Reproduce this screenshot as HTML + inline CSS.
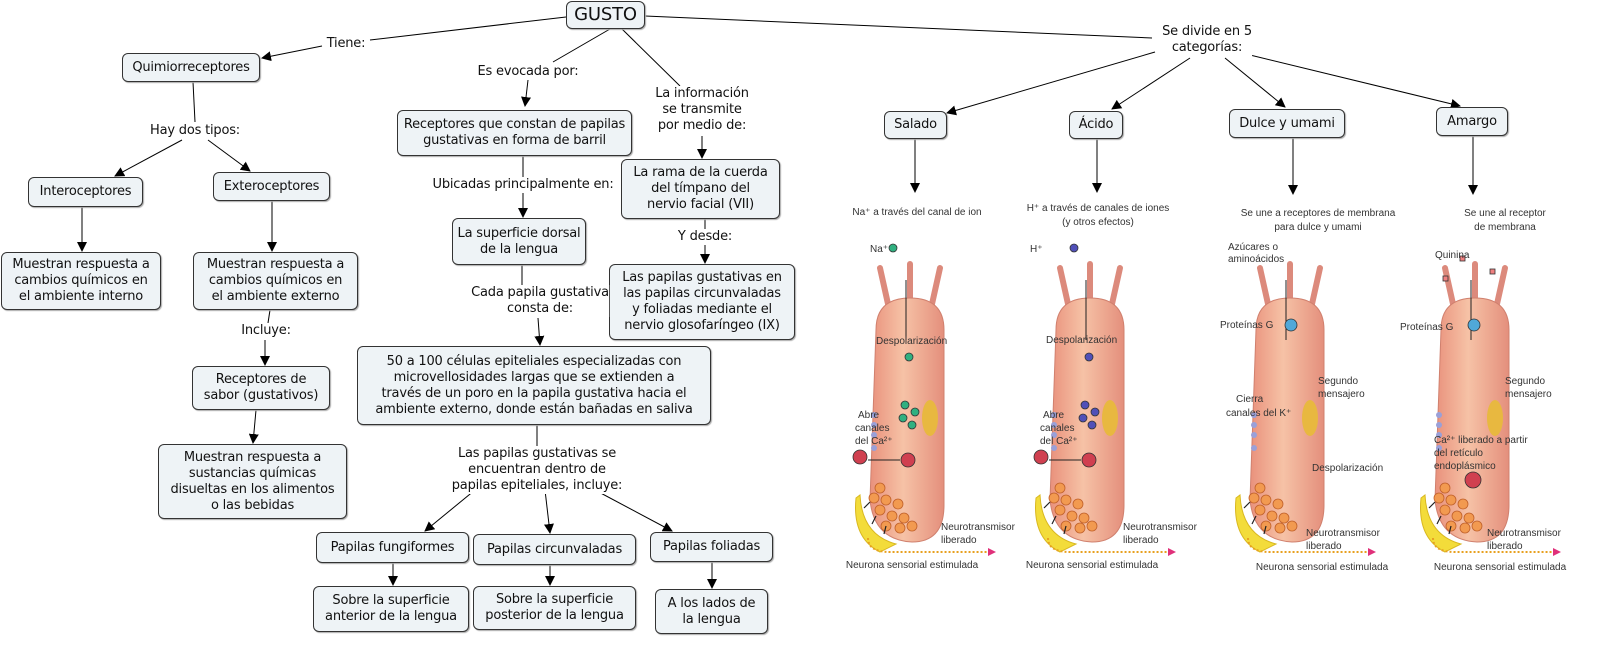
<!DOCTYPE html>
<html><head><meta charset="utf-8"><style>
body{margin:0;width:1600px;height:650px;background:#fff;position:relative;overflow:hidden;font-family:"DejaVu Sans","Liberation Sans",sans-serif;}
.n{position:absolute;box-sizing:border-box;border:1px solid #333;border-radius:6px;background:#eef3f6;box-shadow:1px 1px 1px #aaa;display:flex;align-items:center;justify-content:center;text-align:center;font-size:13px;line-height:16px;color:#111;letter-spacing:-0.2px}
.l{position:absolute;text-align:center;font-size:13px;line-height:16px;color:#111;background:#fff;transform:translateX(-50%);white-space:nowrap;letter-spacing:-0.2px}
svg{position:absolute;left:0;top:0}
.t{font-family:"Liberation Sans",sans-serif;font-size:10px;fill:#333}
</style></head><body>
<svg width="1600" height="650">
<defs>
<marker id="a" markerWidth="10" markerHeight="10" refX="9" refY="5" orient="auto" markerUnits="userSpaceOnUse"><path d="M0,0 L10,5 L0,10z" fill="#000"/></marker>
<linearGradient id="g" x1="0" x2="1"><stop offset="0" stop-color="#e9917c"/><stop offset=".45" stop-color="#f6c2a6"/><stop offset="1" stop-color="#e48f7c"/></linearGradient>
<g id="cell">
<path d="M-22,14 L-30,-22 M0,8 L0,-26 M22,14 L30,-22" stroke="#dc8a7c" stroke-width="6" stroke-linecap="round" fill="none"/>
<path d="M-34,40 Q-34,8 0,8 Q34,8 34,40 L34,215 Q34,252 2,252 Q-36,250 -40,210 Z" fill="url(#g)" stroke="#d0806e"/>
<ellipse cx="20" cy="128" rx="8" ry="18" fill="#e8b840"/>
<g fill="#9aa0d8"><circle cx="-36" cy="125" r="3"/><circle cx="-36" cy="135" r="3"/><circle cx="-36" cy="145" r="3"/><circle cx="-36" cy="158" r="3"/></g>
<g fill="#f29a50" stroke="#c0602a" stroke-width=".8">
<circle cx="-30" cy="198" r="5"/><circle cx="-24" cy="210" r="5"/><circle cx="-12" cy="214" r="5"/><circle cx="-30" cy="220" r="5"/><circle cx="-18" cy="226" r="5"/><circle cx="-6" cy="228" r="5"/><circle cx="-24" cy="236" r="5"/><circle cx="-10" cy="238" r="5"/><circle cx="2" cy="236" r="5"/><circle cx="-36" cy="208" r="5"/></g>
<path d="M-50,205 Q-48,245 -14,254 L-30,262 Q-58,248 -54,208 Z" fill="#f3dc3a" stroke="#d9b820"/>
<g stroke="#222" stroke-width="1.2"><line x1="-40" y1="212" x2="-46" y2="218"/><line x1="-34" y1="226" x2="-38" y2="234"/><line x1="-24" y1="236" x2="-26" y2="244"/></g>
<path d="M-42,248 Q-42,262 -20,262 L78,262" stroke="#e8a020" stroke-width="2" stroke-dasharray="2,2" fill="none"/>
<path d="M78,258 L86,262 L78,266z" fill="#e0307a"/>
<line x1="-4" y1="-10" x2="-4" y2="50" stroke="#222"/>
</g>
</defs>
<g stroke="#000" stroke-width="1" fill="none">
<line x1="566" y1="17" x2="370" y2="40"/><line x1="322" y1="46" x2="262" y2="58" marker-end="url(#a)"/>
<line x1="610" y1="29" x2="553" y2="62"/><line x1="528" y1="80" x2="525" y2="106" marker-end="url(#a)"/>
<line x1="622" y1="29" x2="680" y2="86"/><line x1="702" y1="136" x2="702" y2="158" marker-end="url(#a)"/>
<line x1="645" y1="16" x2="1152" y2="38"/>
<line x1="1155" y1="52" x2="947" y2="113" marker-end="url(#a)"/>
<line x1="1190" y1="58" x2="1112" y2="109" marker-end="url(#a)"/>
<line x1="1225" y1="58" x2="1285" y2="107" marker-end="url(#a)"/>
<line x1="1250" y1="55" x2="1460" y2="106" marker-end="url(#a)"/>
<line x1="193" y1="82" x2="195" y2="122"/>
<line x1="182" y1="140" x2="115" y2="176" marker-end="url(#a)"/>
<line x1="208" y1="140" x2="250" y2="171" marker-end="url(#a)"/>
<line x1="82" y1="207" x2="82" y2="251" marker-end="url(#a)"/>
<line x1="272" y1="201" x2="272" y2="251" marker-end="url(#a)"/>
<line x1="270" y1="310" x2="268" y2="323"/><line x1="265" y1="340" x2="265" y2="365" marker-end="url(#a)"/>
<line x1="256" y1="410" x2="253" y2="443" marker-end="url(#a)"/>
<line x1="523" y1="156" x2="523" y2="177"/><line x1="523" y1="193" x2="523" y2="217" marker-end="url(#a)"/>
<line x1="522" y1="265" x2="522" y2="285"/><line x1="538" y1="318" x2="540" y2="345" marker-end="url(#a)"/>
<line x1="537" y1="425" x2="537" y2="446"/>
<line x1="475" y1="490" x2="425" y2="531" marker-end="url(#a)"/>
<line x1="545" y1="490" x2="550" y2="533" marker-end="url(#a)"/>
<line x1="595" y1="490" x2="672" y2="531" marker-end="url(#a)"/>
<line x1="393" y1="563" x2="393" y2="585" marker-end="url(#a)"/>
<line x1="550" y1="565" x2="550" y2="585" marker-end="url(#a)"/>
<line x1="712" y1="562" x2="712" y2="588" marker-end="url(#a)"/>
<line x1="705" y1="219" x2="705" y2="230"/><line x1="705" y1="245" x2="705" y2="263" marker-end="url(#a)"/>
<line x1="915" y1="139" x2="915" y2="192" marker-end="url(#a)"/>
<line x1="1097" y1="139" x2="1097" y2="192" marker-end="url(#a)"/>
<line x1="1293" y1="138" x2="1293" y2="194" marker-end="url(#a)"/>
<line x1="1473" y1="136" x2="1473" y2="194" marker-end="url(#a)"/>
</g>
<use href="#cell" x="910" y="290"/>
<use href="#cell" x="1090" y="290"/>
<use href="#cell" x="1290" y="290"/>
<use href="#cell" x="1475" y="290"/>
<g stroke="#333" stroke-width=".8">
<circle cx="893" cy="248" r="4" fill="#30b080"/><circle cx="909" cy="357" r="4" fill="#30b080"/>
<circle cx="905" cy="405" r="4" fill="#30b080"/><circle cx="915" cy="412" r="4" fill="#30b080"/><circle cx="903" cy="418" r="4" fill="#30b080"/><circle cx="912" cy="425" r="4" fill="#30b080"/>
<circle cx="1074" cy="248" r="4" fill="#5050b8"/><circle cx="1089" cy="357" r="4" fill="#5050b8"/>
<circle cx="1085" cy="405" r="4" fill="#5050b8"/><circle cx="1095" cy="412" r="4" fill="#5050b8"/><circle cx="1083" cy="418" r="4" fill="#5050b8"/><circle cx="1092" cy="425" r="4" fill="#5050b8"/>
<circle cx="860" cy="457" r="7" fill="#d04050"/><circle cx="908" cy="460" r="7" fill="#d04050"/>
<circle cx="1041" cy="457" r="7" fill="#d04050"/><circle cx="1089" cy="460" r="7" fill="#d04050"/>
<circle cx="1291" cy="325" r="6" fill="#50a8d8"/><circle cx="1474" cy="325" r="6" fill="#50a8d8"/>
<circle cx="1473" cy="480" r="8" fill="#d04050"/>
<rect x="1460" y="256" width="5" height="5" fill="#f08080"/><rect x="1443" y="276" width="5" height="5" fill="#f08080"/><rect x="1490" y="269" width="5" height="5" fill="#f08080"/>
</g>
<g stroke="#222" fill="none"><line x1="868" y1="460" x2="900" y2="460"/><line x1="1049" y1="460" x2="1081" y2="460"/></g>
<g class="t">
<text x="917" y="215" text-anchor="middle">Na⁺ a través del canal de ion</text>
<text x="1098" y="211" text-anchor="middle">H⁺ a través de canales de iones</text>
<text x="1098" y="225" text-anchor="middle">(y otros efectos)</text>
<text x="1318" y="216" text-anchor="middle">Se une a receptores de membrana</text>
<text x="1318" y="230" text-anchor="middle">para dulce y umami</text>
<text x="1505" y="216" text-anchor="middle">Se une al receptor</text>
<text x="1505" y="230" text-anchor="middle">de membrana</text>
<text x="870" y="252">Na⁺</text><text x="1030" y="252">H⁺</text>
<text x="1228" y="250">Azúcares o</text><text x="1228" y="262">aminoácidos</text>
<text x="1435" y="258">Quinina</text>
<text x="876" y="344">Despolarización</text><text x="1046" y="343">Despolarización</text>
<text x="1220" y="328">Proteínas G</text><text x="1400" y="330">Proteínas G</text>
<text x="1318" y="384">Segundo</text><text x="1318" y="397">mensajero</text>
<text x="1505" y="384">Segundo</text><text x="1505" y="397">mensajero</text>
<text x="1236" y="402">Cierra</text><text x="1226" y="416">canales del K⁺</text>
<text x="1312" y="471">Despolarización</text>
<text x="1434" y="443">Ca²⁺ liberado a partir</text><text x="1434" y="456">del retículo</text><text x="1434" y="469">endoplásmico</text>
<text x="858" y="418">Abre</text><text x="855" y="431">canales</text><text x="855" y="444">del Ca²⁺</text>
<text x="1043" y="418">Abre</text><text x="1040" y="431">canales</text><text x="1040" y="444">del Ca²⁺</text>
<text x="941" y="530">Neurotransmisor</text><text x="941" y="543">liberado</text>
<text x="1123" y="530">Neurotransmisor</text><text x="1123" y="543">liberado</text>
<text x="1306" y="536">Neurotransmisor</text><text x="1306" y="549">liberado</text>
<text x="1487" y="536">Neurotransmisor</text><text x="1487" y="549">liberado</text>
<text x="912" y="568" text-anchor="middle">Neurona sensorial estimulada</text>
<text x="1092" y="568" text-anchor="middle">Neurona sensorial estimulada</text>
<text x="1322" y="570" text-anchor="middle">Neurona sensorial estimulada</text>
<text x="1500" y="570" text-anchor="middle">Neurona sensorial estimulada</text>
</g>
</svg>
<div class="n" style="left:566px;top:1px;width:79px;height:28px;font-size:18px">GUSTO</div>
<div class="n" style="left:122px;top:53px;width:138px;height:29px">Quimiorreceptores</div>
<div class="n" style="left:28px;top:177px;width:115px;height:30px">Interoceptores</div>
<div class="n" style="left:213px;top:172px;width:117px;height:29px">Exteroceptores</div>
<div class="n" style="left:1px;top:252px;width:160px;height:58px">Muestran respuesta a<br>cambios químicos en<br>el ambiente interno</div>
<div class="n" style="left:193px;top:252px;width:165px;height:58px">Muestran respuesta a<br>cambios químicos en<br>el ambiente externo</div>
<div class="n" style="left:192px;top:366px;width:138px;height:44px">Receptores de<br>sabor (gustativos)</div>
<div class="n" style="left:158px;top:444px;width:189px;height:75px">Muestran respuesta a<br>sustancias químicas<br>disueltas en los alimentos<br>o las bebidas</div>
<div class="n" style="left:397px;top:110px;width:235px;height:46px">Receptores que constan de papilas<br>gustativas en forma de barril</div>
<div class="n" style="left:452px;top:218px;width:134px;height:47px">La superficie dorsal<br>de la lengua</div>
<div class="n" style="left:357px;top:346px;width:354px;height:79px">50 a 100 células epiteliales especializadas con<br>microvellosidades largas que se extienden a<br>través de un poro en la papila gustativa hacia el<br>ambiente externo, donde están bañadas en saliva</div>
<div class="n" style="left:316px;top:532px;width:153px;height:31px">Papilas fungiformes</div>
<div class="n" style="left:473px;top:534px;width:163px;height:31px">Papilas circunvaladas</div>
<div class="n" style="left:650px;top:532px;width:123px;height:30px">Papilas foliadas</div>
<div class="n" style="left:313px;top:586px;width:156px;height:46px">Sobre la superficie<br>anterior de la lengua</div>
<div class="n" style="left:473px;top:586px;width:163px;height:44px">Sobre la superficie<br>posterior de la lengua</div>
<div class="n" style="left:655px;top:589px;width:113px;height:45px">A los lados de<br>la lengua</div>
<div class="n" style="left:621px;top:159px;width:159px;height:60px">La rama de la cuerda<br>del tímpano del<br>nervio facial (VII)</div>
<div class="n" style="left:609px;top:264px;width:186px;height:76px">Las papilas gustativas en<br>las papilas circunvaladas<br>y foliadas mediante el<br>nervio glosofaríngeo (IX)</div>
<div class="n" style="left:884px;top:111px;width:63px;height:28px">Salado</div>
<div class="n" style="left:1069px;top:111px;width:54px;height:28px">Ácido</div>
<div class="n" style="left:1229px;top:109px;width:116px;height:29px">Dulce y umami</div>
<div class="n" style="left:1436px;top:107px;width:72px;height:29px">Amargo</div>
<div class="l" style="left:346px;top:36px">Tiene:</div>
<div class="l" style="left:528px;top:64px">Es evocada por:</div>
<div class="l" style="left:702px;top:86px">La información<br>se transmite<br>por medio de:</div>
<div class="l" style="left:195px;top:123px">Hay dos tipos:</div>
<div class="l" style="left:523px;top:177px">Ubicadas principalmente en:</div>
<div class="l" style="left:705px;top:229px">Y desde:</div>
<div class="l" style="left:540px;top:285px">Cada papila gustativa<br>consta de:</div>
<div class="l" style="left:266px;top:323px">Incluye:</div>
<div class="l" style="left:537px;top:446px">Las papilas gustativas se<br>encuentran dentro de<br>papilas epiteliales, incluye:</div>
<div class="l" style="left:1207px;top:24px">Se divide en 5<br>categorías:</div>
</body></html>
